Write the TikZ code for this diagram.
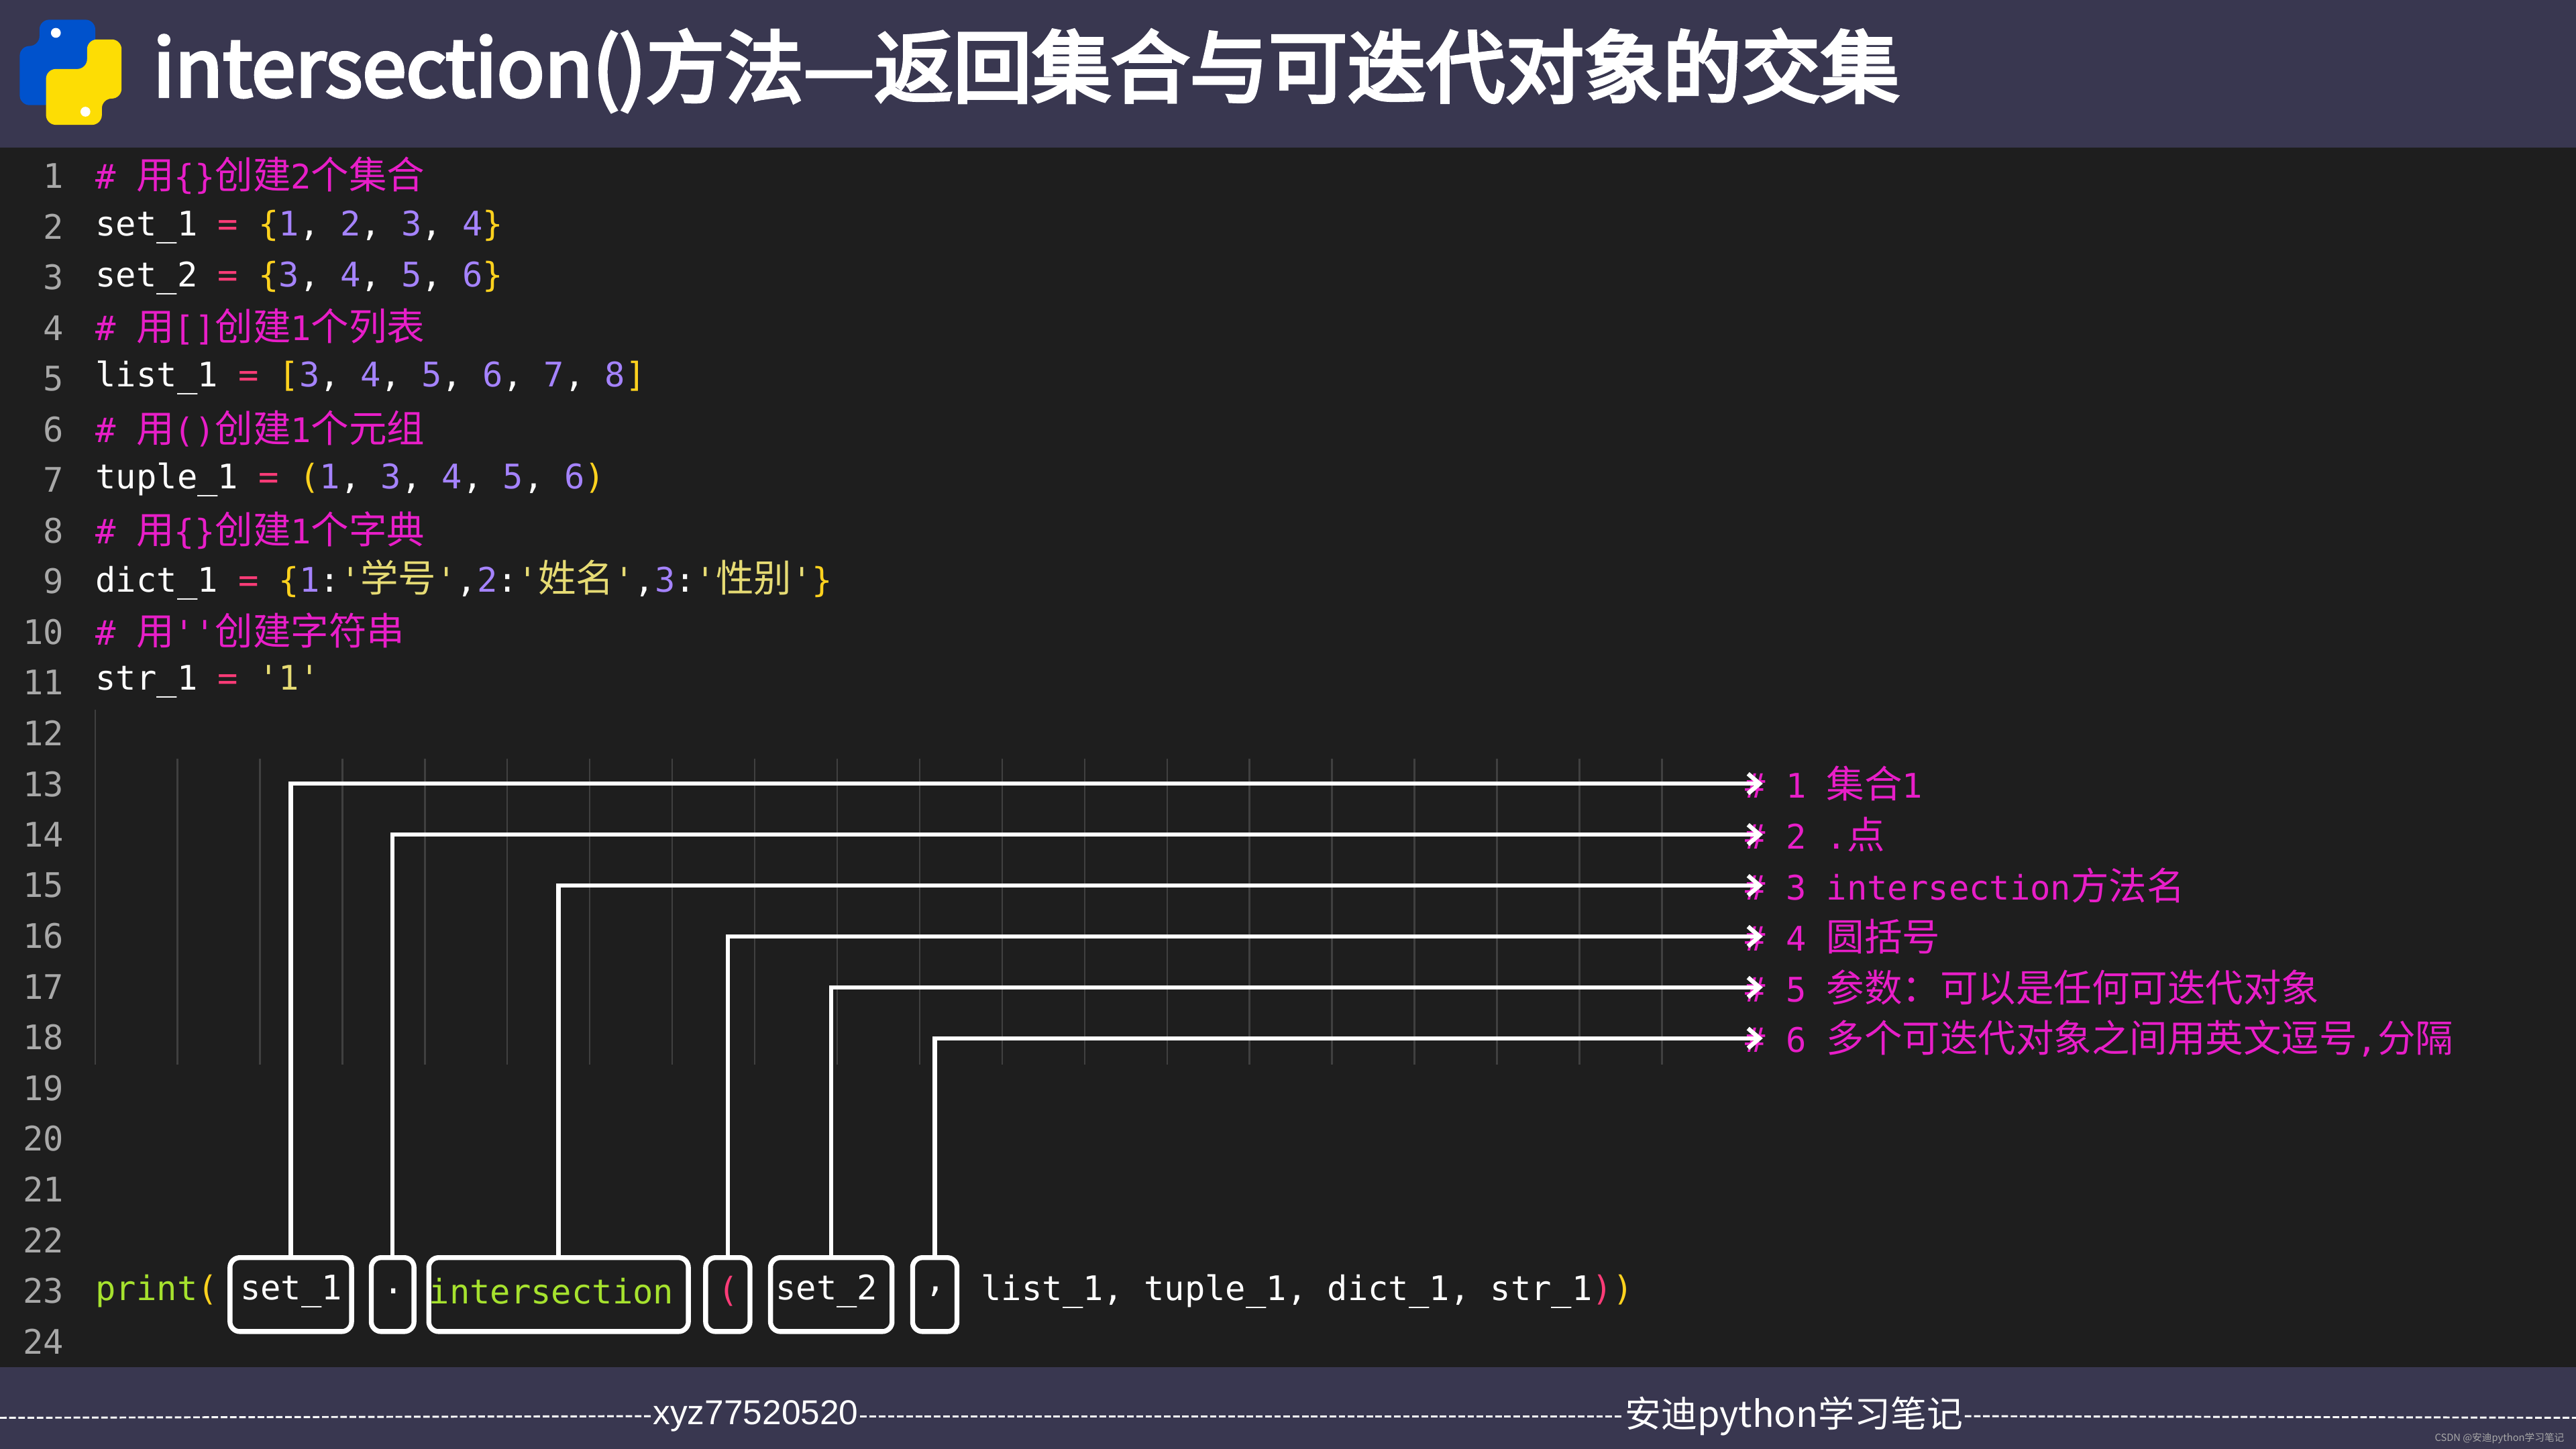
\documentclass[tikz,border=0pt]{standalone}
\usepackage{fontspec}
\setmonofont{DejaVu Sans Mono}
\newfontfamily\zh[Scale=1.12]{Noto Sans CJK SC}
\newfontfamily\zhf{Noto Sans CJK SC}
\newfontfamily\titlefont[FakeBold=4]{Noto Sans CJK SC}
\newfontfamily\foot{Liberation Sans}
\usetikzlibrary{arrows.meta}
\definecolor{hdr}{HTML}{393750}
\definecolor{codebg}{HTML}{1E1E1E}
\definecolor{cmt}{HTML}{E81EC8}
\definecolor{numc}{HTML}{A583FF}
\definecolor{brc}{HTML}{FFD21E}
\definecolor{eqc}{HTML}{FF3C78}
\definecolor{strc}{HTML}{E6DB74}
\definecolor{grn}{HTML}{A6E22E}
\definecolor{lno}{HTML}{A8A8A8}
\definecolor{guide}{HTML}{404040}
\newcommand\Cm[1]{\textcolor{cmt}{#1}}
\newcommand\Nm[1]{\textcolor{numc}{#1}}
\newcommand\Br[1]{\textcolor{brc}{#1}}
\newcommand\Eq{\textcolor{eqc}{=}}
\newcommand\St[1]{\textcolor{strc}{#1}}
\newcommand\Z[1]{{\zh #1}}
\tikzset{
  code/.style={anchor=west,inner sep=0pt,text=white,font=\fontsize{20.6}{21}\ttfamily},
  lnum/.style={anchor=east,inner sep=0pt,text=lno,font=\fontsize{20.6}{21}\ttfamily},
  tokbox/.style={draw=white,line width=3pt,rounded corners=6pt,inner sep=0pt},
  conn/.style={draw=white,line width=2.6pt,-{Straight Barb[length=7pt,width=12pt,line width=2.6pt]}},
  note/.style={anchor=west,inner sep=0pt,text=cmt,font=\fontsize{20.6}{21}\ttfamily}
}
\begin{document}
\begin{tikzpicture}[x=1pt,y=-1pt]
\useasboundingbox (0,0) rectangle (1568,882);
\fill[codebg] (0,0) rectangle (1568,882);
\fill[hdr] (0,0) rectangle (1568,90);
\fill[hdr] (0,832) rectangle (1568,882);
% python logo
\fill[blue!60!cyan!80!black,rounded corners=6pt] (24,12) -- (58,12) -- (58,46) -- (33,46) -- (33,64) -- (12,64) -- (12,28) -- (24,28) -- cycle;
\fill[yellow!80!orange,rounded corners=6pt] (62,76) -- (28,76) -- (28,42) -- (53,42) -- (53,24) -- (74,24) -- (74,60) -- (62,60) -- cycle;
\fill[white] (34,20) circle (3);
\fill[white] (52,68) circle (3);
\node[anchor=west,inner sep=0pt,text=white,font=\fontsize{48}{52}\titlefont] (title) at (93,43) {intersection()方法—返回集合与可迭代对象的交集};
% guides
\draw[guide,line width=1pt] (58,432) -- (58,648);
\foreach \i in {0,...,18}{\draw[guide,line width=1pt] (108+50.2*\i,462) -- (108+50.2*\i,648);}
% line numbers
\foreach \i in {1,...,24}{\node[lnum] (n\i) at (39,107+30.85*\i-30.85) {\i};}
% code
\node[code] (l1) at (58,107) {\Cm{\# \Z{用}\{\}\Z{创建}2\Z{个集合}}};
\node[code] (l2) at (58,138) {set\_1 \Eq{} \Br{\{}\Nm{1}, \Nm{2}, \Nm{3}, \Nm{4}\Br{\}}};
\node[code] (l3) at (58,169) {set\_2 \Eq{} \Br{\{}\Nm{3}, \Nm{4}, \Nm{5}, \Nm{6}\Br{\}}};
\node[code] (l4) at (58,199) {\Cm{\# \Z{用}[]\Z{创建}1\Z{个列表}}};
\node[code] (l5) at (58,230) {list\_1 \Eq{} \Br{[}\Nm{3}, \Nm{4}, \Nm{5}, \Nm{6}, \Nm{7}, \Nm{8}\Br{]}};
\node[code] (l6) at (58,261) {\Cm{\# \Z{用}()\Z{创建}1\Z{个元组}}};
\node[code] (l7) at (58,292) {tuple\_1 \Eq{} \Br{(}\Nm{1}, \Nm{3}, \Nm{4}, \Nm{5}, \Nm{6}\Br{)}};
\node[code] (l8) at (58,323) {\Cm{\# \Z{用}\{\}\Z{创建}1\Z{个字典}}};
\node[code] (l9) at (58,353) {dict\_1 \Eq{} \Br{\{}\Nm{1}:\St{'\Z{学号}'},\Nm{2}:\St{'\Z{姓名}'},\Nm{3}:\St{'\Z{性别}'}\Br{\}}};
\node[code] (l10) at (58,384) {\Cm{\# \Z{用}''\Z{创建字符串}}};
\node[code] (l11) at (58,415) {str\_1 \Eq{} \St{'1'}};
% line 23
\node[code] (pr) at (58,786) {\textcolor{grn}{print}\Br{(}};
\node[tokbox,minimum width=74pt,minimum height=45pt] (b1) at (177,788) {};
\node[code] at (146,786) {set\_1};
\node[tokbox,minimum width=26pt,minimum height=45pt] (b2) at (239,788) {};
\node[code] at (233,786) {.};
\node[tokbox,minimum width=158pt,minimum height=45pt] (b3) at (340,788) {};
\node[code] at (261,786) {\textcolor{grn}{intersection}};
\node[tokbox,minimum width=27pt,minimum height=45pt] (b4) at (443,788) {};
\node[code] at (437,786) {\textcolor{eqc}{(}};
\node[tokbox,minimum width=74pt,minimum height=45pt] (b5) at (506,788) {};
\node[code] at (472,786) {set\_2};
\node[tokbox,minimum width=27pt,minimum height=45pt] (b6) at (569,788) {};
\node[code] at (563,786) {,};
\node[code] (rest) at (597,786) {list\_1, tuple\_1, dict\_1, str\_1\textcolor{eqc}{)}\Br{)}};
% notes
\node[note] (t1) at (1062,477) {\# 1 \Z{集合}1};
\node[note] (t2) at (1062,508) {\# 2 .\Z{点}};
\node[note] (t3) at (1062,539) {\# 3 intersection\Z{方法名}};
\node[note] (t4) at (1062,570) {\# 4 \Z{圆括号}};
\node[note] (t5) at (1062,601) {\# 5 \Z{参数：可以是任何可迭代对象}};
\node[note] (t6) at (1062,632) {\# 6 \Z{多个可迭代对象之间用英文逗号},\Z{分隔}};
\draw[conn] (b1.north) |- ([xshift=11pt]t1.west);
\draw[conn] (b2.north) |- ([xshift=11pt]t2.west);
\draw[conn] (b3.north) |- ([xshift=11pt]t3.west);
\draw[conn] (b4.north) |- ([xshift=11pt]t4.west);
\draw[conn] (b5.north) |- ([xshift=11pt]t5.west);
\draw[conn] (b6.north) |- ([xshift=11pt]t6.west);
% footer
\node[anchor=center,inner sep=1pt,text=white,font=\fontsize{21}{22}\foot] (f1) at (460,862) {xyz77520520};
\node[anchor=center,inner sep=1pt,text=white,font=\fontsize{22}{22}\zhf] (f2) at (1092,862) {安迪python学习笔记};
\draw[white,line width=1.2pt,dash pattern=on 4pt off 1.6pt] (0,863) -- (f1.west);
\draw[white,line width=1.2pt,dash pattern=on 4pt off 1.6pt] (f1.east) -- (f2.west);
\draw[white,line width=1.2pt,dash pattern=on 4pt off 1.6pt] (f2.east) -- (1568,863);
\node[anchor=south east,inner sep=1pt,text=lno,font=\fontsize{6}{7}\zhf] (csdn) at (1562,880) {CSDN @安迪python学习笔记};
\end{tikzpicture}
\end{document}
